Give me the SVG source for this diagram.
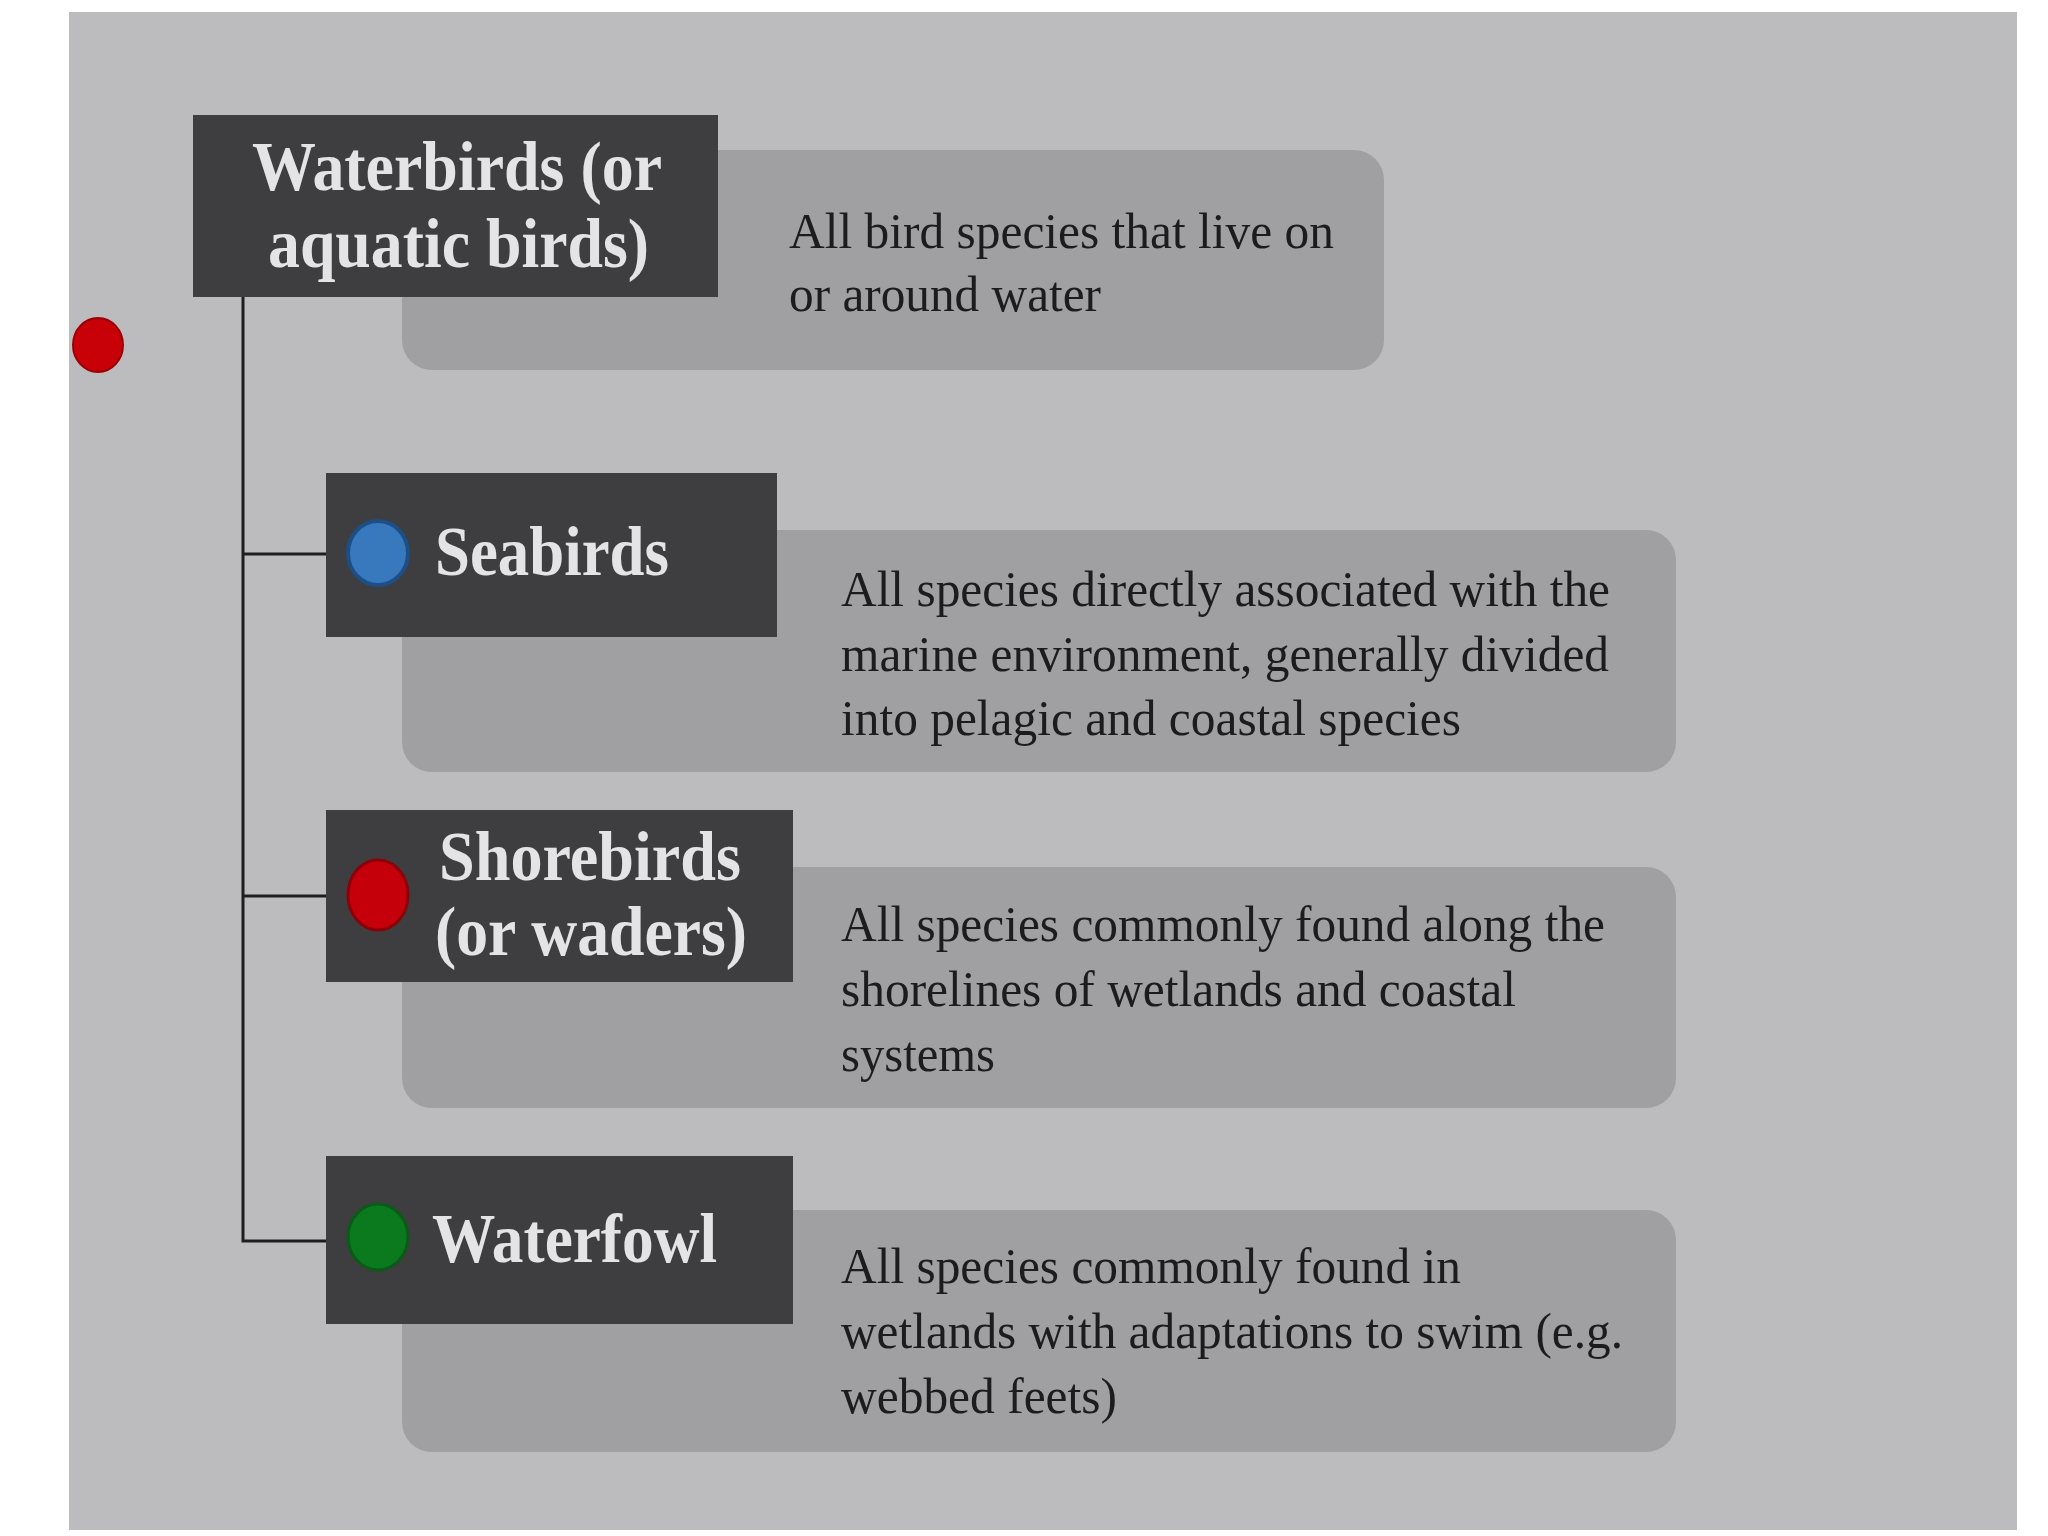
<svg xmlns="http://www.w3.org/2000/svg" width="2048" height="1536" viewBox="0 0 2048 1536">
  <style>
    .bg { fill: #bcbbbd; }
    .desc { fill: #a09fa2; }
    .head { fill: #3e3d3f; }
    .lbl { font-family: "Liberation Serif", "Times New Roman", serif; font-weight: bold; font-size: 70px; fill: #e4e3e5; }
    .txt { font-family: "Liberation Serif", "Times New Roman", serif; font-size: 50px; fill: #1c1c1e; }
    .conn { stroke: #1e1e20; stroke-width: 3; fill: none; }
  </style>
  <rect x="0" y="0" width="2048" height="1536" fill="#ffffff"/>
  <rect class="bg" x="69" y="12" width="1948" height="1518"/>

  <ellipse cx="98" cy="345" rx="25" ry="27" fill="#c80008" stroke="#9a0006" stroke-width="2"/>

  <g id="connectors">
    <path class="conn" d="M243 297 V1241 H326"/>
    <path class="conn" d="M243 554 H326"/>
    <path class="conn" d="M243 896 H326"/>
  </g>

  <g id="waterbirds">
    <rect class="desc" x="402" y="150" width="982" height="220" rx="30"/>
    <rect class="head" x="193" y="115" width="525" height="182"/>
    <text class="lbl" x="252" y="190" textLength="410" lengthAdjust="spacingAndGlyphs">Waterbirds (or</text>
    <text class="lbl" x="268" y="267" textLength="381" lengthAdjust="spacingAndGlyphs">aquatic birds)</text>
    <text class="txt" x="789" y="248" textLength="545" lengthAdjust="spacingAndGlyphs">All bird species that live on</text>
    <text class="txt" x="789" y="311" textLength="312" lengthAdjust="spacingAndGlyphs">or around water</text>
  </g>

  <g id="seabirds">
    <rect class="desc" x="402" y="530" width="1274" height="242" rx="30"/>
    <rect class="head" x="326" y="473" width="451" height="164"/>
    <ellipse cx="378" cy="553" rx="30" ry="32" fill="#3878bd" stroke="#1d4f86" stroke-width="4"/>
    <text class="lbl" x="435" y="575" textLength="234" lengthAdjust="spacingAndGlyphs">Seabirds</text>
    <text class="txt" x="841" y="606" textLength="769" lengthAdjust="spacingAndGlyphs">All species directly associated with the</text>
    <text class="txt" x="841" y="671" textLength="768" lengthAdjust="spacingAndGlyphs">marine environment, generally divided</text>
    <text class="txt" x="841" y="735" textLength="620" lengthAdjust="spacingAndGlyphs">into pelagic and coastal species</text>
  </g>

  <g id="shorebirds">
    <rect class="desc" x="402" y="867" width="1274" height="241" rx="30"/>
    <rect class="head" x="326" y="810" width="467" height="172"/>
    <ellipse cx="378" cy="895" rx="30" ry="35" fill="#c5000a" stroke="#8e0008" stroke-width="3"/>
    <text class="lbl" x="439" y="880" textLength="302" lengthAdjust="spacingAndGlyphs">Shorebirds</text>
    <text class="lbl" x="435" y="955" textLength="312" lengthAdjust="spacingAndGlyphs">(or waders)</text>
    <text class="txt" x="841" y="941" textLength="764" lengthAdjust="spacingAndGlyphs">All species commonly found along the</text>
    <text class="txt" x="841" y="1006" textLength="675" lengthAdjust="spacingAndGlyphs">shorelines of wetlands and coastal</text>
    <text class="txt" x="841" y="1071" textLength="154" lengthAdjust="spacingAndGlyphs">systems</text>
  </g>

  <g id="waterfowl">
    <rect class="desc" x="402" y="1210" width="1274" height="242" rx="30"/>
    <rect class="head" x="326" y="1156" width="467" height="168"/>
    <ellipse cx="378" cy="1237" rx="30" ry="33" fill="#0b7a1f" stroke="#0a5a18" stroke-width="3"/>
    <text class="lbl" x="432" y="1262" textLength="285" lengthAdjust="spacingAndGlyphs">Waterfowl</text>
    <text class="txt" x="841" y="1283" textLength="620" lengthAdjust="spacingAndGlyphs">All species commonly found in</text>
    <text class="txt" x="841" y="1348" textLength="782" lengthAdjust="spacingAndGlyphs">wetlands with adaptations to swim (e.g.</text>
    <text class="txt" x="841" y="1413" textLength="276" lengthAdjust="spacingAndGlyphs">webbed feets)</text>
  </g>
</svg>
